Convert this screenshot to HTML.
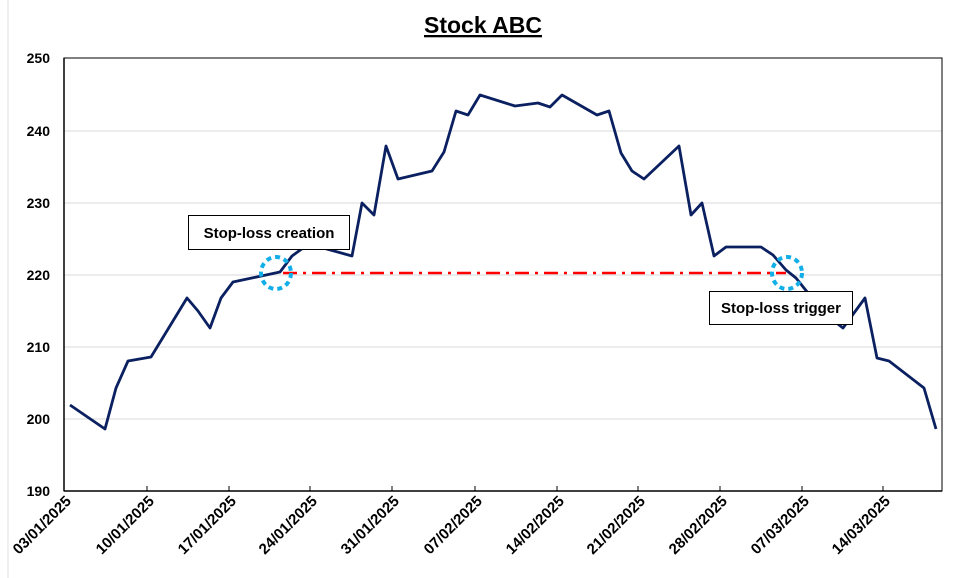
<!DOCTYPE html>
<html><head><meta charset="utf-8"><style>
html,body{margin:0;padding:0;background:#fff;}
svg{display:block;font-family:"Liberation Sans",sans-serif;}
</style></head><body>
<svg width="964" height="578" viewBox="0 0 964 578" xmlns="http://www.w3.org/2000/svg">
<rect width="964" height="578" fill="#fff"/>
<line x1="8" y1="0" x2="8" y2="578" stroke="#e0e0e0"/>
<text x="483" y="33" text-anchor="middle" font-size="23" font-weight="bold" text-decoration="underline">Stock ABC</text>
<g stroke="#d9d9d9" stroke-width="1">
<line x1="64" y1="419" x2="942" y2="419"/>
<line x1="64" y1="347" x2="942" y2="347"/>
<line x1="64" y1="275" x2="942" y2="275"/>
<line x1="64" y1="203" x2="942" y2="203"/>
<line x1="64" y1="131" x2="942" y2="131"/>
</g>
<rect x="64" y="58" width="878" height="433" fill="none" stroke="#000" stroke-width="1"/>
<line x1="64" y1="491" x2="942" y2="491" stroke="#000" stroke-width="1.5"/>
<line x1="64" y1="58" x2="64" y2="491" stroke="#000" stroke-width="1.5"/>
<g font-size="14" font-weight="bold" text-anchor="end">
<text x="50" y="496">190</text><text x="50" y="424">200</text><text x="50" y="352">210</text>
<text x="50" y="280">220</text><text x="50" y="208">230</text><text x="50" y="136">240</text><text x="50" y="63">250</text>
</g>
<g stroke="#000" stroke-width="1">
<line x1="147" y1="486" x2="147" y2="491"/><line x1="229" y1="486" x2="229" y2="491"/><line x1="310" y1="486" x2="310" y2="491"/><line x1="392" y1="486" x2="392" y2="491"/><line x1="475" y1="486" x2="475" y2="491"/><line x1="557" y1="486" x2="557" y2="491"/><line x1="638" y1="486" x2="638" y2="491"/><line x1="720" y1="486" x2="720" y2="491"/><line x1="802" y1="486" x2="802" y2="491"/><line x1="883" y1="486" x2="883" y2="491"/>
</g>
<g font-size="15" font-weight="bold" text-anchor="end">
<text transform="translate(72,502) rotate(-45)">03/01/2025</text>
<text transform="translate(155,502) rotate(-45)">10/01/2025</text>
<text transform="translate(237,502) rotate(-45)">17/01/2025</text>
<text transform="translate(318,502) rotate(-45)">24/01/2025</text>
<text transform="translate(400,502) rotate(-45)">31/01/2025</text>
<text transform="translate(483,502) rotate(-45)">07/02/2025</text>
<text transform="translate(565,502) rotate(-45)">14/02/2025</text>
<text transform="translate(646,502) rotate(-45)">21/02/2025</text>
<text transform="translate(728,502) rotate(-45)">28/02/2025</text>
<text transform="translate(810,502) rotate(-45)">07/03/2025</text>
<text transform="translate(891,502) rotate(-45)">14/03/2025</text>
</g>
<polyline fill="none" stroke="#0b2060" stroke-width="2.8" stroke-linejoin="round" points="70,405 105,429 116,388 128,361 151,357 187,298 198,311 210,328 221,298 233,282 280,272 292,256 303,248 316,246 352,256 362,203 374,215 386,146 398,179 432,171 444,152 456,111 468,115 480,95 515,106 538,103 550,107 562,95 597,115 609,111 621,153 632,171 644,179 679,146 691,215 702,203 714,256 726,247 761,247 773,255 786,270 796,278 808,293 820,310 843,328 865,298 877,358 889,361 924,388 936,429"/>
<line x1="283" y1="273" x2="786" y2="273" stroke="#ff0000" stroke-width="2.5" stroke-dasharray="14,6,3,6"/>
<ellipse cx="276" cy="273" rx="15" ry="16" fill="none" stroke="#12aee8" stroke-width="4" stroke-dasharray="5,4"/>
<ellipse cx="787" cy="273" rx="15" ry="16" fill="none" stroke="#12aee8" stroke-width="4" stroke-dasharray="5,4"/>
<rect x="188.5" y="215.5" width="161" height="34" fill="#fff" stroke="#000"/>
<text x="269" y="238" text-anchor="middle" font-size="15" font-weight="bold">Stop-loss creation</text>
<rect x="709.5" y="291.5" width="143" height="33" fill="#fff" stroke="#000"/>
<text x="781" y="313" text-anchor="middle" font-size="15" font-weight="bold">Stop-loss trigger</text>
</svg>
</body></html>
